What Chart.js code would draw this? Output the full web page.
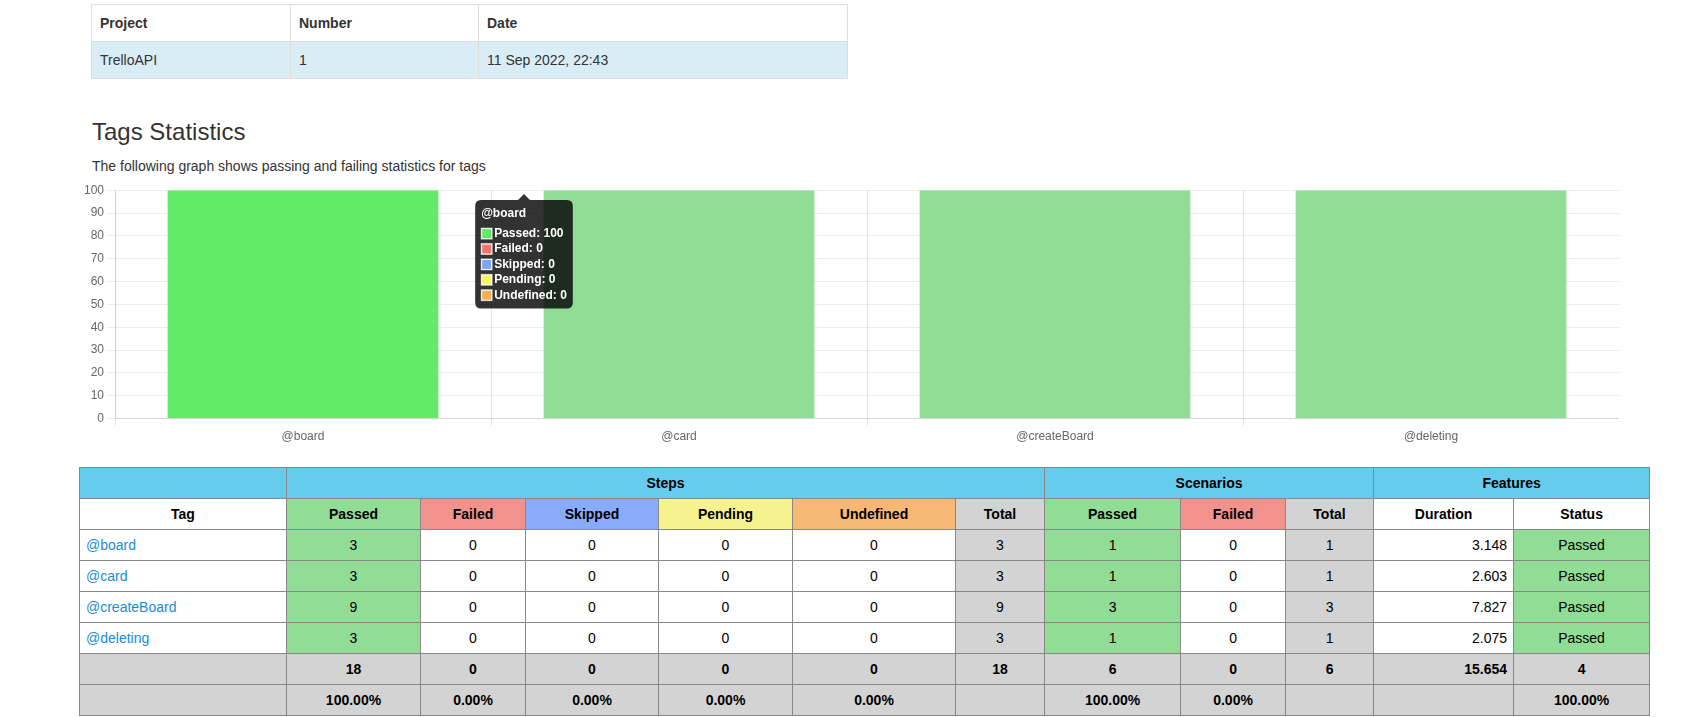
<!DOCTYPE html>
<html><head><meta charset="utf-8">
<script src="https://cdn.jsdelivr.net/npm/chart.js@4"></script>
<style>
body{margin:0;font-family:"Liberation Sans",Arial,sans-serif;font-size:14px;color:#333;background:#fff;}
table{border-collapse:collapse;position:absolute;table-layout:fixed;}
#info{left:91px;top:4px;width:757px;}
#info td,#info th{border:1px solid #ddd;padding:0 8px;height:36px;text-align:left;}
#info th{font-weight:bold;}
#info tr.r td{background:#d9edf7;}
h2{position:absolute;left:92px;top:118px;margin:0;font-weight:normal;font-size:24px;}
p.sub{position:absolute;left:92px;top:158px;margin:0;font-size:14px;}
#cw{position:absolute;left:81px;top:180px;width:1538px;height:267px;}
#stats{left:79px;top:467px;width:1570px;font-size:14px;color:#000;}
#stats td,#stats th{border:1px solid #888;height:30px;padding:0 6px;text-align:center;}
#stats th{font-weight:bold;}
.h{background:#66ccee;}
.p{background:#92dd96;}.f{background:#f2928c;}.s{background:#8aabfb;}.pe{background:#f5f28f;}.u{background:#f5b975;}.t{background:#d3d3d3;}
td.tag{text-align:left !important;color:#1a8bd6;}
td.n{text-align:right !important;}
tr.sum td{background:#d3d3d3;font-weight:bold;}
</style></head><body>
<table id="info"><tr><th style="width:182px">Project</th><th style="width:171px">Number</th><th>Date</th></tr>
<tr class="r"><td>TrelloAPI</td><td>1</td><td>11 Sep 2022, 22:43</td></tr></table>
<h2>Tags Statistics</h2>
<p class="sub">The following graph shows passing and failing statistics for tags</p>
<div id="cw"><canvas id="c"></canvas></div>
<table id="stats">
<colgroup><col style="width:207px"><col style="width:134px"><col style="width:105px"><col style="width:133px"><col style="width:134px"><col style="width:163px"><col style="width:89px"><col style="width:136px"><col style="width:105px"><col style="width:88px"><col style="width:140px"><col style="width:136px"></colgroup>
<tbody id="tb"></tbody></table>
<script>
const tags=["@board","@card","@createBoard","@deleting"];
const passed=[100,100,100,100];
const failed=[0,0,0,0];
const skipped=[0,0,0,0];
const pending=[0,0,0,0];
const undef=[0,0,0,0];
const stepsPassed=[3,3,9,3];
const scenPassed=[1,1,3,1];
const durations=["3.148","2.603","7.827","2.075"];
const totalDuration="15.654";

let h='<tr><th class="h"></th><th class="h" colspan="6">Steps</th><th class="h" colspan="3">Scenarios</th><th class="h" colspan="2">Features</th></tr>';
h+='<tr><th>Tag</th><th class="p">Passed</th><th class="f">Failed</th><th class="s">Skipped</th><th class="pe">Pending</th><th class="u">Undefined</th><th class="t">Total</th><th class="p">Passed</th><th class="f">Failed</th><th class="t">Total</th><th>Duration</th><th>Status</th></tr>';
tags.forEach((t,i)=>{h+=`<tr><td class="tag">${t}</td><td class="p">${stepsPassed[i]}</td><td>0</td><td>0</td><td>0</td><td>0</td><td class="t">${stepsPassed[i]}</td><td class="p">${scenPassed[i]}</td><td>0</td><td class="t">${scenPassed[i]}</td><td class="n">${durations[i]}</td><td class="p">Passed</td></tr>`;});
const sp=stepsPassed.reduce((a,b)=>a+b,0),sc=scenPassed.reduce((a,b)=>a+b,0);
h+=`<tr class="sum"><td></td><td>${sp}</td><td>0</td><td>0</td><td>0</td><td>0</td><td>${sp}</td><td>${sc}</td><td>0</td><td>${sc}</td><td class="n">${totalDuration}</td><td>${tags.length}</td></tr>`;
h+='<tr class="sum"><td></td><td>100.00%</td><td>0.00%</td><td>0.00%</td><td>0.00%</td><td>0.00%</td><td></td><td>100.00%</td><td>0.00%</td><td></td><td></td><td>100.00%</td></tr>';
document.getElementById('tb').innerHTML=h;

Chart.Tooltip.positioners.mouse=(items,pos)=>pos;
Chart.defaults.font.family='"Liberation Sans",Arial,sans-serif';
Chart.defaults.color='#666';
const chart=new Chart(document.getElementById('c'),{type:'bar',
data:{labels:tags,datasets:[
{label:'Passed',data:passed,backgroundColor:'#92dd96',hoverBackgroundColor:'#62eb68'},
{label:'Failed',data:failed,backgroundColor:'#f7746b'},
{label:'Skipped',data:skipped,backgroundColor:'#7da3fb'},
{label:'Pending',data:pending,backgroundColor:'#f7f567'},
{label:'Undefined',data:undef,backgroundColor:'#f5b050'}]},
options:{responsive:true,maintainAspectRatio:false,animation:false,events:[],
layout:{padding:{top:6}},
plugins:{legend:{display:false},tooltip:{mode:'index',position:'mouse',yAlign:'top',
backgroundColor:'rgba(0,0,0,0.8)',titleFont:{size:12,weight:'bold'},bodyFont:{size:12,weight:'bold'},padding:6,bodySpacing:1,boxWidth:11,boxHeight:11,caretSize:6,
callbacks:{labelColor:(c)=>({borderColor:'rgba(255,255,255,0.5)',backgroundColor:c.datasetIndex==0?'#62eb68':c.dataset.backgroundColor})}}},
scales:{x:{stacked:true,grid:{color:'rgba(0,0,0,0.1)'},ticks:{font:{size:12}}},
y:{stacked:true,min:0,max:100,ticks:{stepSize:10,font:{size:12}},grid:{color:'rgba(0,0,0,0.08)'}}}}});
const els=[0,1,2,3,4].map(d=>({datasetIndex:d,index:0}));
chart.setActiveElements(els);
chart.tooltip.setActiveElements(els,{x:443,y:12});
chart.update();
</script></body></html>
